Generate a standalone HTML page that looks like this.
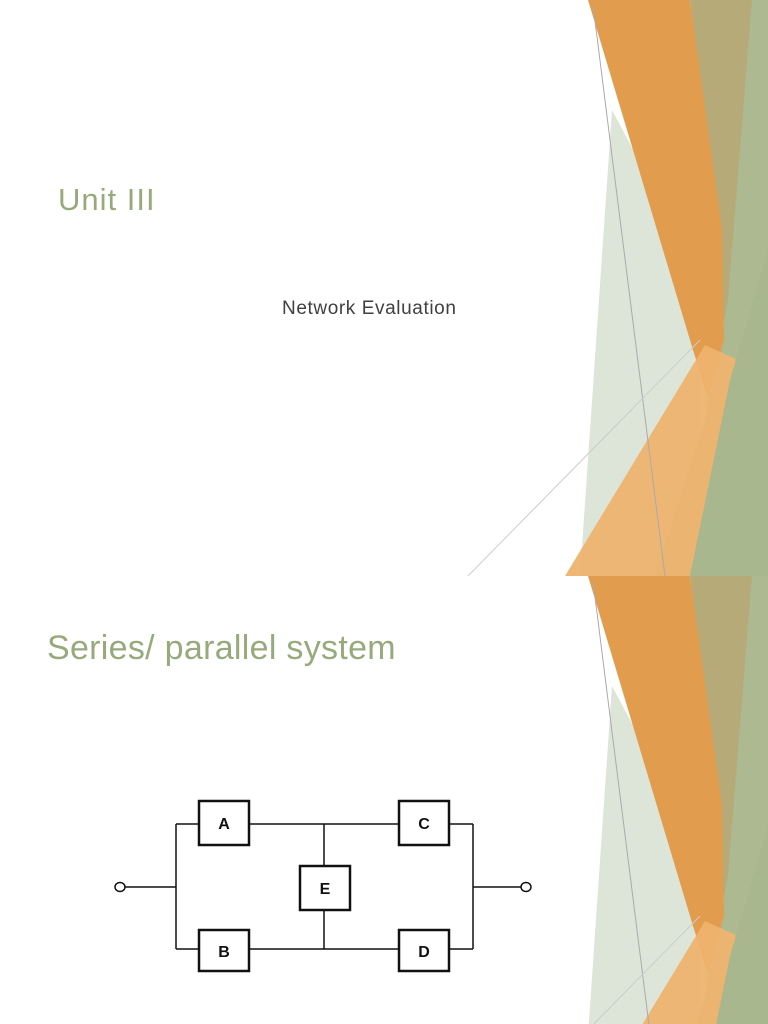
<!DOCTYPE html>
<html><head><style>
html,body{margin:0;width:768px;height:1024px;overflow:hidden}
body{position:relative;background:#fff;font-family:"Liberation Sans",sans-serif}
.t{position:absolute;white-space:nowrap}
svg{display:block}
</style></head><body>
<svg width="768" height="1024" style="position:absolute;left:0;top:0">
<defs>
<g id="deco">
<polygon points="612,110 660,200 700,380 700,576 580,576" fill="#dde5d8"/>
<polygon points="690,0 768,0 768,576 700,576 720,230" fill="#b6ab78"/>
<polygon points="752,0 768,0 768,576 655,576 705,420 728,300" fill="#adb990"/>
<polygon points="588,0 690,0 722,230 724,340 708,400" fill="#e29c4e"/>
<polygon points="565,576 705,345 738,360 690,576" fill="#eeb36f" opacity="0.95"/>
<polygon points="690,576 730,380 768,250 768,576" fill="#a8b78d"/>
<line x1="593" y1="5" x2="665" y2="576" stroke="#aaa" stroke-width="1"/>
<line x1="468" y1="576" x2="700" y2="340" stroke="#ccc" stroke-width="1"/>
</g>
<clipPath id="c2"><rect x="0" y="576" width="768" height="448"/></clipPath>
<clipPath id="c1"><rect x="0" y="0" width="768" height="576"/></clipPath>
</defs>
<g clip-path="url(#c1)"><use href="#deco"/></g>
<g clip-path="url(#c2)"><use href="#deco" transform="translate(0,576)"/></g>
<g stroke="#111" fill="none" stroke-width="1.5">
<line x1="125" y1="887" x2="176" y2="887"/>
<line x1="176" y1="824" x2="176" y2="949"/>
<line x1="176" y1="824" x2="198" y2="824"/>
<line x1="176" y1="949" x2="198" y2="949"/>
<line x1="249" y1="824" x2="398" y2="824"/>
<line x1="249" y1="949" x2="398" y2="949"/>
<line x1="324" y1="824" x2="324" y2="865"/>
<line x1="324" y1="910" x2="324" y2="949"/>
<line x1="449" y1="824" x2="473" y2="824"/>
<line x1="449" y1="949" x2="473" y2="949"/>
<line x1="473" y1="824" x2="473" y2="949"/>
<line x1="473" y1="887" x2="521" y2="887"/>
<ellipse cx="120" cy="887" rx="5" ry="4.5"/>
<ellipse cx="526" cy="887" rx="5" ry="4.5"/>
</g>
<g stroke="#111" fill="#fff" stroke-width="2.5">
<rect x="199" y="801" width="50" height="44"/>
<rect x="399" y="801" width="50" height="44"/>
<rect x="300" y="866" width="50" height="44"/>
<rect x="199" y="930" width="50" height="41"/>
<rect x="399" y="930" width="50" height="41"/>
</g>
<g font-family="Liberation Sans" font-weight="bold" font-size="16" fill="#111" text-anchor="middle">
<text x="224" y="829">A</text><text x="424" y="829">C</text><text x="325" y="894">E</text>
<text x="224" y="957">B</text><text x="424" y="957">D</text>
</g>
</svg>
<div class="t" style="left:58px;top:182px;font-size:31px;letter-spacing:1px;color:#98a97c">Unit III</div>
<div class="t" style="left:282px;top:298px;font-size:19px;letter-spacing:0.6px;color:#404040">Network Evaluation</div>
<div class="t" style="left:47px;top:629px;font-size:34px;letter-spacing:0.3px;color:#98a97c">Series/ parallel system</div>
</body></html>
